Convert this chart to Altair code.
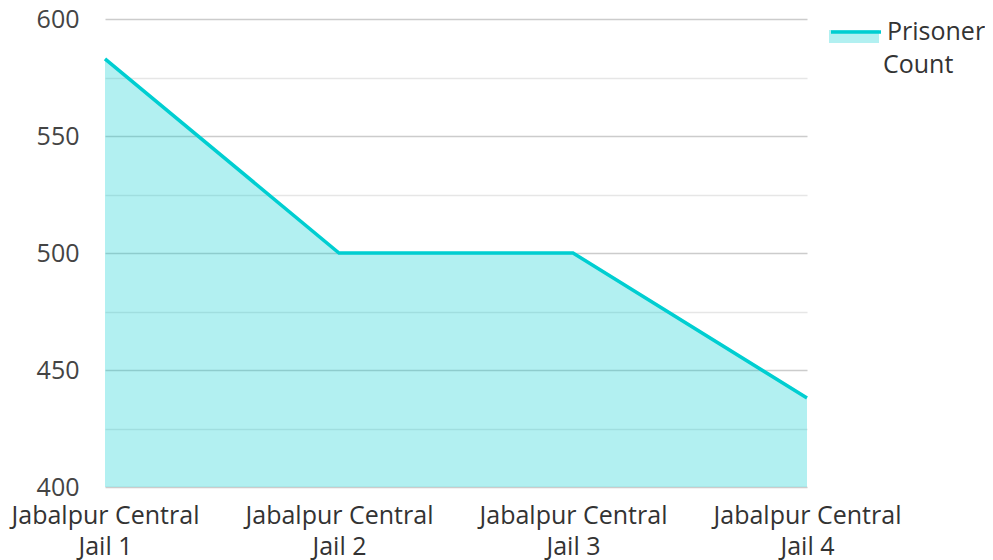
import altair as alt
import pandas as pd

jails = ["Jabalpur Central Jail 1", "Jabalpur Central Jail 2",
         "Jabalpur Central Jail 3", "Jabalpur Central Jail 4"]
prisoners = [583, 500, 500, 438]
series = "Prisoner Count"
y_ticks = [400, 425, 450, 475, 500, 525, 550, 575, 600]

df = pd.DataFrame({"jail": jails, "count": prisoners, "series": [series] * len(jails)})

FONT = "Open Sans"
TEAL = "#00CED1"
FS = 25

x_enc = alt.X(
    "jail:N", sort=None, title=None,
    scale=alt.Scale(type="point", padding=0),
    axis=alt.Axis(
        domain=False, ticks=False, grid=False, labelAngle=0,
        labelFont=FONT, labelFontSize=FS, labelColor="#333333",
        labelPadding=16, labelLineHeight=31, labelLimit=400,
        labelExpr="[substring(datum.label, 0, 16), substring(datum.label, 17)]",
    ),
)
y_enc = alt.Y(
    "count:Q", title=None,
    scale=alt.Scale(domain=[400, 600], zero=False, nice=False),
    axis=alt.Axis(
        values=y_ticks, domain=False, ticks=False,
        labelFont=FONT, labelFontSize=FS, labelColor="#444444", labelPadding=26,
        labelExpr="datum.value % 50 === 0 ? datum.label : ''",
        gridColor={"condition": {"test": "datum.value % 50 === 0", "value": "#cccccc"},
                   "value": "#e6e6e6"},
        gridWidth=1.5,
    ),
)

# legend: line symbol + first word on one legend, area symbol + second word on the other
area = alt.Chart(df).mark_area(fillOpacity=0.3, clip=True).encode(
    x=x_enc, y=y_enc,
    fill=alt.Fill("series:N", scale=alt.Scale(range=[TEAL]),
                  legend=alt.Legend(
                      title=None, orient="none", legendX=724, legendY=21,
                      symbolType="M-1,-1.4 L1,-1.4 L1,-0.88 L-1,-0.88 Z",
                      symbolSize=2500, symbolFillColor=TEAL, symbolOpacity=0.3,
                      symbolStrokeWidth=0,
                      labelFont=FONT, labelFontSize=FS, labelColor="#333333",
                      labelOffset=4, labelLimit=300,
                      labelExpr="split(datum.label, ' ')[1]",
                  )),
)
line = alt.Chart(df).mark_line(strokeWidth=3.5).encode(
    x=x_enc, y=y_enc,
    stroke=alt.Stroke("series:N", scale=alt.Scale(range=[TEAL]),
                      legend=alt.Legend(
                          title=None, orient="none", legendX=724, legendY=-14,
                          symbolType="M-1,0 L1,0",
                          symbolSize=2500, symbolStrokeWidth=3.5,
                          labelFont=FONT, labelFontSize=FS, labelColor="#333333",
                          labelOffset=4, labelLimit=300,
                          labelExpr="split(datum.label, ' ')[0]",
                      )),
)

chart = alt.layer(area, line).resolve_scale(fill="independent", stroke="independent").properties(
    width=702, height=468,
    autosize=alt.AutoSizeParams(type="none"),
    padding={"left": 97, "top": 11, "right": 178, "bottom": 73},
).configure_view(stroke=None)

chart.save("out.html", embed_options={"renderer": "svg", "actions": False})
